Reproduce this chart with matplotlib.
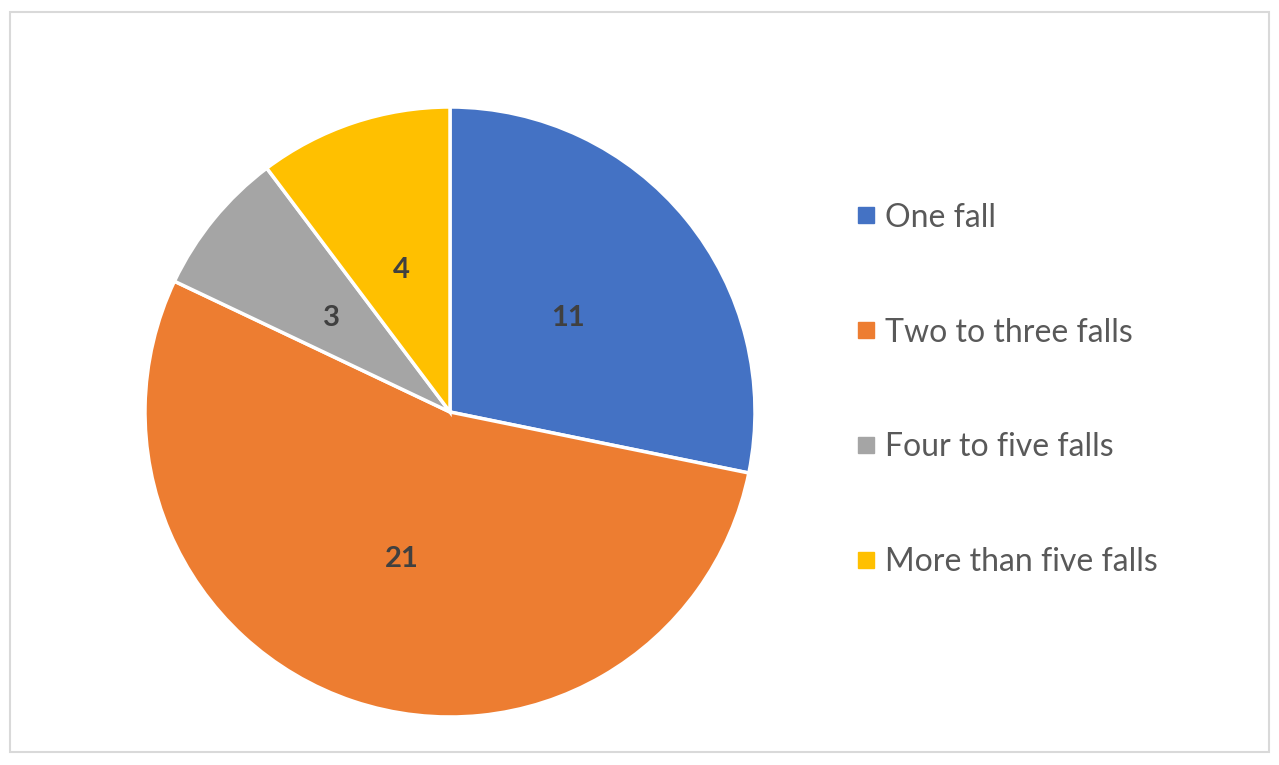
import matplotlib.pyplot as plt
from matplotlib.lines import Line2D
from matplotlib.patches import Rectangle

categories = ['One fall', 'Two to three falls', 'Four to five falls', 'More than five falls']
counts = [11, 21, 3, 4]
colors = ['#4472C4', '#ED7D31', '#A5A5A5', '#FFC000']

plt.rcParams['font.family'] = ['Lato', 'DejaVu Sans']

W, H = 1279, 765
fig = plt.figure(figsize=(W / 100, H / 100), dpi=100)

# light grey chart-area border
fig.patches.append(Rectangle((10 / W, 13 / H), 1259 / W, 740 / H, transform=fig.transFigure,
                             fill=False, edgecolor='#D9D9D9', linewidth=1.5))

cx, cy, r = 450, 765 - 412, 305
ax = fig.add_axes([(cx - r) / W, (cy - r) / H, 2 * r / W, 2 * r / H])
wedges, texts = ax.pie(counts, colors=colors, startangle=90, counterclock=False,
                       labels=[str(c) for c in counts], labeldistance=0.5,
                       wedgeprops=dict(edgecolor='white', linewidth=2.5))
for t in texts:
    t.set_fontsize(21)
    t.set_fontweight('bold')
    t.set_color('#404040')
    t.set_ha('center')
    t.set_va('center_baseline')
ax.set_xlim(-1, 1)
ax.set_ylim(-1, 1)
ax.set_aspect('equal')
ax.axis('off')

handles = [Line2D([], [], marker='s', linestyle='none', markersize=11,
                  markerfacecolor=c, markeredgecolor=c) for c in colors]
leg = fig.legend(handles, categories, loc='center left', bbox_to_anchor=(829 / W, (765 - 390) / H),
                 frameon=False, fontsize=23, labelcolor='#595959',
                 handlelength=0.5, handletextpad=0.36, labelspacing=2.66)

fig.savefig('out.png', dpi=100, facecolor='white')
